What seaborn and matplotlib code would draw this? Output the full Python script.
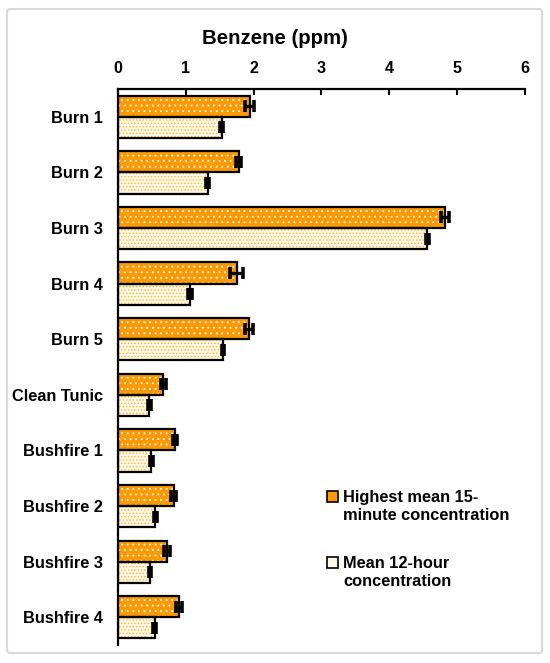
import numpy as np
import pandas as pd
import matplotlib
matplotlib.use("Agg")
import matplotlib.pyplot as plt
from matplotlib.patches import Patch, FancyBboxPatch, Rectangle
from matplotlib.legend_handler import HandlerPatch
import seaborn as sns

# data
sites = ["Burn 1", "Burn 2", "Burn 3", "Burn 4", "Burn 5", "Clean Tunic",
         "Bushfire 1", "Bushfire 2", "Bushfire 3", "Bushfire 4"]
peak_15min = [1.94, 1.78, 4.82, 1.75, 1.93, 0.67, 0.84, 0.82, 0.72, 0.90]
peak_err = [0.07, 0.04, 0.06, 0.10, 0.06, 0.04, 0.03, 0.04, 0.04, 0.04]
mean_12h = [1.53, 1.32, 4.56, 1.06, 1.55, 0.46, 0.49, 0.55, 0.47, 0.54]
mean_err = [0.02, 0.02, 0.02, 0.03, 0.02, 0.02, 0.02, 0.02, 0.02, 0.02]
series = ["Highest mean 15-\nminute concentration", "Mean 12-hour\nconcentration"]
xticks = [0, 1, 2, 3, 4, 5, 6]

df = pd.DataFrame({
    "site": sites * 2,
    "ppm": peak_15min + mean_12h,
    "series": [series[0]] * len(sites) + [series[1]] * len(sites),
})

orange = "#ff9900"
pale = "#fff7e6"

plt.rcParams["font.family"] = ["Liberation Sans", "DejaVu Sans"]
plt.rcParams["font.weight"] = "bold"
plt.rcParams["hatch.linewidth"] = 0.6

fig = plt.figure(figsize=(5.5, 6.63), dpi=100)
ax = fig.add_axes([0.2145, 0.027, 0.74, 0.8388])

sns.barplot(data=df, x="ppm", y="site", hue="series", hue_order=series,
            palette=[orange, pale], saturation=1, orient="h", width=0.76,
            gap=0, errorbar=None, legend=False, ax=ax)

styles = [("...", "white"), (".....", "#ffb833")]
errs = [peak_err, mean_err]
for cont, (hatch, hc), err in zip(ax.containers, styles, errs):
    xs, ys = [], []
    for bar in cont:
        bar.set_hatch(hatch)
        bar.set_edgecolor(hc)
        bar.set_linewidth(0)
        ax.add_patch(Rectangle((bar.get_x(), bar.get_y()), bar.get_width(),
                               bar.get_height(), fill=False,
                               ec="black", lw=1.6, zorder=3))
        xs.append(bar.get_width())
        ys.append(bar.get_y() + bar.get_height() / 2)
    ax.errorbar(xs, ys, xerr=err, fmt="none", ecolor="black", elinewidth=2.4,
                capsize=4.5, capthick=2.6, zorder=4)

ax.set_xlim(0, 6)
ax.set_ylim(9.5, -0.5)
ax.set_xticks(xticks)
ax.xaxis.tick_top()
ax.tick_params(axis="x", direction="in", length=4, width=1.5, pad=9,
               labelsize=11.5)
ax.tick_params(axis="y", length=0, pad=11, labelsize=11.8)
for lab in ax.get_xticklabels() + ax.get_yticklabels():
    lab.set_fontweight("bold")
ax.set_xlabel("")
ax.set_ylabel("")
for side in ["right", "bottom"]:
    ax.spines[side].set_visible(False)
for side in ["left", "top"]:
    ax.spines[side].set_linewidth(1.6)

fig.text(0.5, 1 - 38 / 663, "Benzene (ppm)", ha="center", va="center",
         fontsize=14.7, fontweight="bold")


def top_square(legend, orig_handle, xdescent, ydescent, width, height, fontsize):
    # put the key square next to the first line of the two-line label
    return Rectangle((-xdescent, -ydescent + 0.62 * fontsize), width, height)


handles = [Patch(facecolor=orange, edgecolor="black", lw=1.2),
           Patch(facecolor=pale, edgecolor="black", lw=1.2)]
leg = ax.legend(handles, series, loc="upper left",
                bbox_to_anchor=(0.594, 0.261), bbox_transform=fig.transFigure,
                frameon=False, fontsize=11.8, handlelength=0.7,
                handleheight=0.7, handletextpad=0.3, labelspacing=2.0,
                borderpad=0, borderaxespad=0,
                handler_map={Patch: HandlerPatch(patch_func=top_square)})
for t in leg.get_texts():
    t.set_fontweight("bold")
    t.set_linespacing(1.25)

border = FancyBboxPatch((7 / 550, 1 - 653 / 663), 535 / 550, 644 / 663,
                        boxstyle="round,pad=0,rounding_size=0.005",
                        transform=fig.transFigure, fill=False,
                        ec="#d9d9d9", lw=1.5)
fig.patches.append(border)

fig.savefig("out.png", dpi=100)
